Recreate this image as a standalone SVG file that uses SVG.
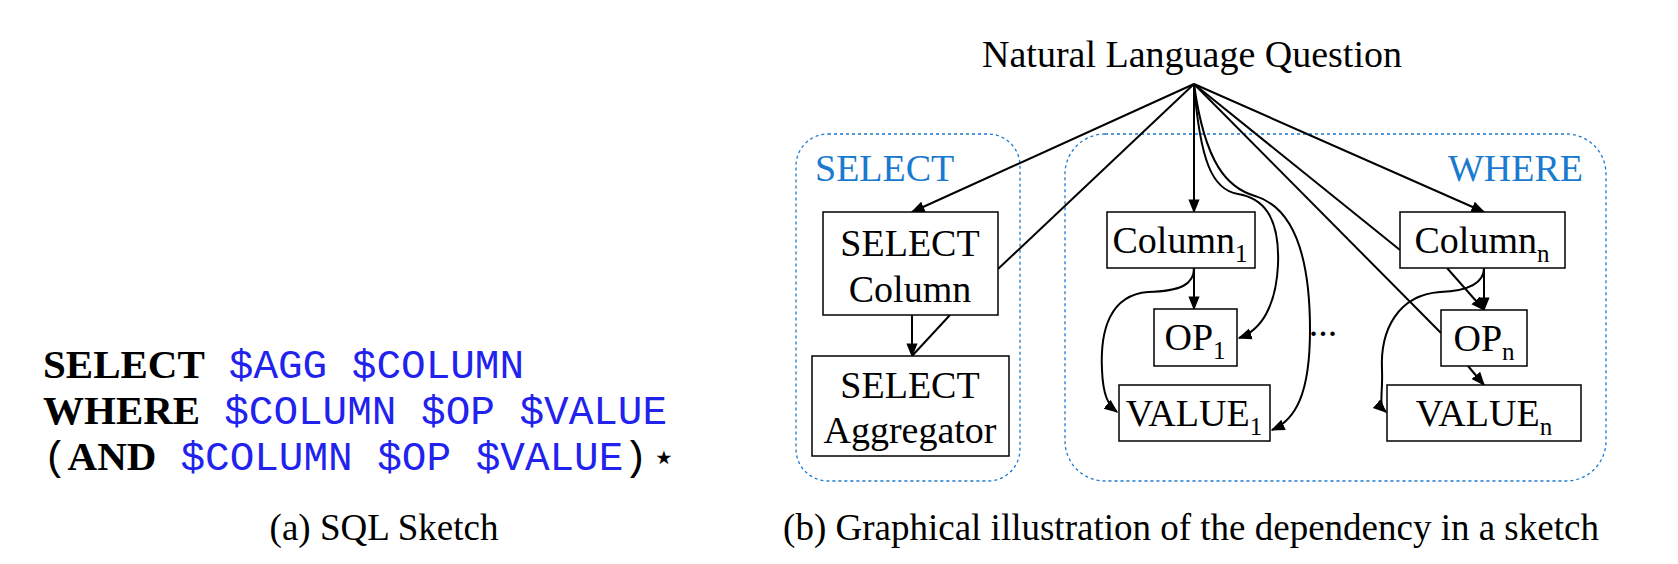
<svg xmlns="http://www.w3.org/2000/svg" width="1678" height="564" viewBox="0 0 1678 564">
<defs>
<marker id="ah" viewBox="0 0 10 10" refX="9" refY="5" markerWidth="7" markerHeight="7" orient="auto"><path d="M0,1 L10,5 L0,9 z" fill="#000"/></marker>
<style>
.t{font-family:"Liberation Serif",serif;font-size:38px;fill:#000}
.c{font-family:"Liberation Serif",serif;font-size:37px;fill:#000}
.s{font-size:25px}
.b{fill:#fff;stroke:#000;stroke-width:1.5}
.g{fill:none;stroke:#1a7ad0;stroke-width:1.3;stroke-dasharray:3 3}
.gl{font-family:"Liberation Serif",serif;font-size:38px;fill:#1a7ad0}
.e{fill:none;stroke:#000;stroke-width:2}
.a{marker-end:url(#ah)}
.k{font-family:"Liberation Serif",serif;font-weight:bold;font-size:41px;fill:#000}
.m{font-family:"Liberation Mono",monospace;font-size:41px;fill:#2222ee}
</style>
</defs>
<rect fill="#fff" width="1678" height="564"/>
<g id="sql">
<text x="43" y="378"><tspan class="k">SELECT</tspan><tspan class="m" dx="24">$AGG $COLUMN</tspan></text>
<text x="43" y="424"><tspan class="k">WHERE</tspan><tspan class="m" dx="24">$COLUMN $OP $VALUE</tspan></text>
<text x="43" y="470"><tspan class="m" style="fill:#000">(</tspan><tspan class="k">AND</tspan><tspan class="m" dx="24">$COLUMN $OP $VALUE</tspan><tspan class="m" style="fill:#000">)</tspan><tspan class="t" dx="4">⋆</tspan></text>
</g>
<text class="c" x="384" y="540" text-anchor="middle">(a) SQL Sketch</text>
<text class="c" x="1191" y="540" text-anchor="middle">(b) Graphical illustration of the dependency in a sketch</text>
<g id="groups">
<rect class="g" x="796" y="134" width="224" height="347" rx="32"/>
<text class="gl" x="815" y="181">SELECT</text>
<rect class="g" x="1065" y="134" width="541" height="347" rx="40"/>
<text class="gl" x="1583" y="181" text-anchor="end">WHERE</text>
</g>
<g id="connectors">
<path class="e a" d="M1194,84 L912,212"/>
<path class="e" d="M1194,84 L998,269"/>
<path class="e a" d="M1194,84 L1194,212"/>
<path class="e a" d="M1194,84 C1200,160 1212,190 1238,194 C1262,198 1280,215 1278,265 C1276,305 1262,330 1239,338"/>
<path class="e a" d="M1194,84 C1205,165 1228,188 1255,196 C1295,208 1310,260 1310,330 C1310,395 1295,420 1272,430"/>
<path class="e" d="M1194,84 L1400,250"/>
<path class="e" d="M1194,84 L1441,333"/>
<path class="e a" d="M1194,84 L1484,212"/>
<path class="e a" d="M1194,268 L1194,309"/>
<path class="e a" d="M1194,268 C1194,285 1180,291 1148,292 C1110,295 1100,330 1102,370 C1103,395 1108,405 1117,412"/>
<path class="e a" d="M1484,268 L1484,310"/>
<path class="e a" d="M1447,268 L1484,310"/>
<path class="e a" d="M1484,268 C1484,285 1465,291 1440,292 C1398,295 1380,330 1382,370 C1383,395 1378,405 1386,412"/>
<path class="e a" d="M1468,366 L1484,385"/>
<path class="e a" d="M912,315 L912,356"/>
<path class="e" d="M950,315 L912,356"/>
</g>
<g id="nlq"><text class="t" x="1192" y="67" text-anchor="middle">Natural Language Question</text></g>
<g id="selcol"><rect class="b" x="823" y="212" width="175" height="103"/><text class="t" x="910" y="256" text-anchor="middle">SELECT</text><text class="t" x="910" y="302" text-anchor="middle">Column</text></g>
<g id="selagg"><rect class="b" x="812" y="356" width="197" height="100"/><text class="t" x="910" y="398" text-anchor="middle">SELECT</text><text class="t" x="910" y="443" text-anchor="middle">Aggregator</text></g>
<g id="col1"><rect class="b" x="1107" y="212" width="148" height="56"/><text class="t" x="1180" y="253" text-anchor="middle">Column<tspan class="s" dy="9">1</tspan></text></g>
<g id="op1"><rect class="b" x="1154" y="309" width="83" height="57"/><text class="t" x="1195" y="350" text-anchor="middle">OP<tspan class="s" dy="9">1</tspan></text></g>
<g id="val1"><rect class="b" x="1119" y="385" width="151" height="56"/><text class="t" x="1194" y="426" text-anchor="middle">VALUE<tspan class="s" dy="9">1</tspan></text></g>
<g id="coln"><rect class="b" x="1400" y="212" width="165" height="56"/><text class="t" x="1482" y="253" text-anchor="middle">Column<tspan class="s" dy="9">n</tspan></text></g>
<g id="opn"><rect class="b" x="1441" y="310" width="86" height="56"/><text class="t" x="1484" y="351" text-anchor="middle">OP<tspan class="s" dy="9">n</tspan></text></g>
<g id="valn"><rect class="b" x="1387" y="385" width="194" height="56"/><text class="t" x="1484" y="426" text-anchor="middle">VALUE<tspan class="s" dy="9">n</tspan></text></g>
<text class="t" x="1323" y="336" text-anchor="middle">...</text>
</svg>
